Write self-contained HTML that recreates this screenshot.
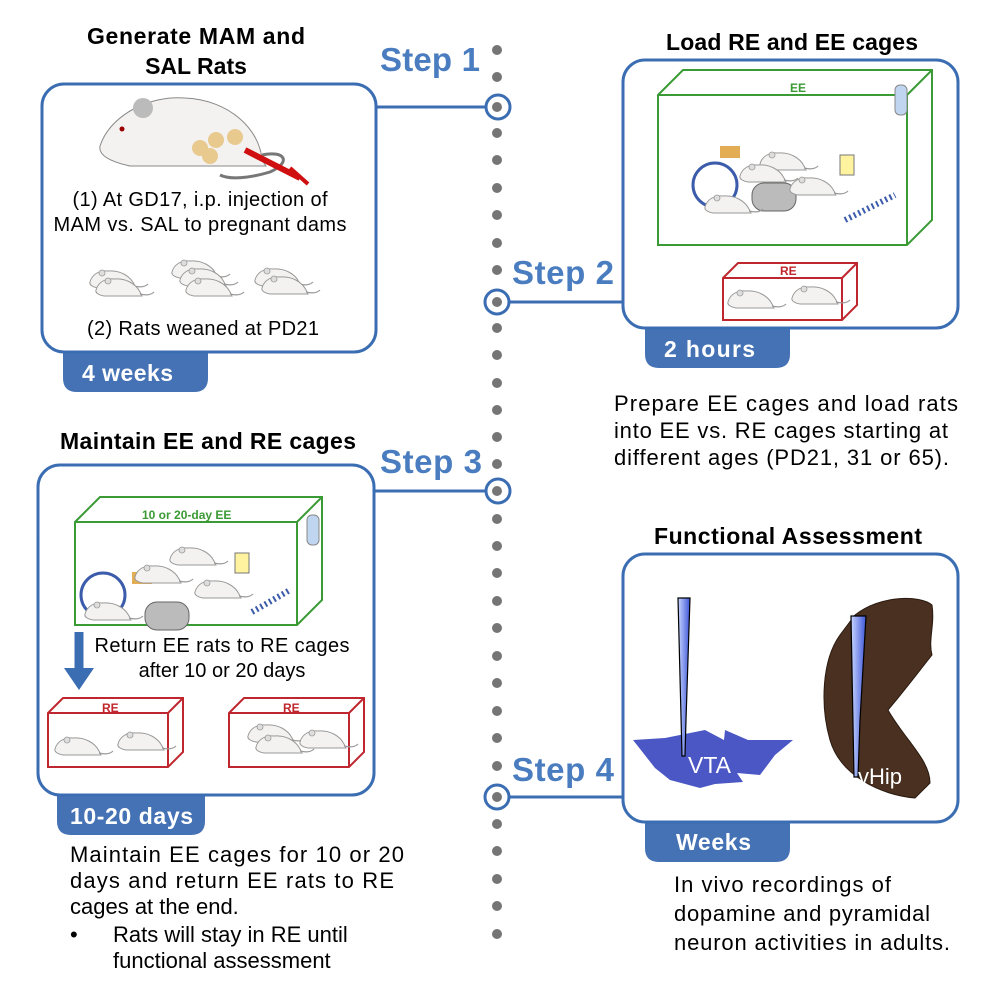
<!DOCTYPE html>
<html><head><meta charset="utf-8"><style>
body{margin:0;background:#fff}
svg text{font-family:"Liberation Sans",Arial,sans-serif}
</style></head><body>
<svg width="996" height="996" viewBox="0 0 996 996" xmlns="http://www.w3.org/2000/svg">
<defs>
<g id="rat">
<path d="M0,14 C2,6 10,2 18,3 C30,2 40,8 44,16 L46,20 L8,20 C3,19 -1,17 0,14Z" fill="#f4f2f0" stroke="#999" stroke-width="1"/>
<circle cx="12" cy="5" r="3" fill="#ddd" stroke="#999" stroke-width=".8"/>
<path d="M44,18 C52,20 56,18 58,16" fill="none" stroke="#999" stroke-width="1.2"/>
</g>
<linearGradient id="pip" x1="0" x2="1"><stop offset="0" stop-color="#c9d6ff"/><stop offset="1" stop-color="#3d56d8"/></linearGradient>
</defs>
<g fill="#757575">
<circle cx="497" cy="50" r="5"/><circle cx="497" cy="77" r="5"/><circle cx="497" cy="133" r="5"/><circle cx="497" cy="160" r="5"/><circle cx="497" cy="188" r="5"/><circle cx="497" cy="215" r="5"/><circle cx="497" cy="243" r="5"/><circle cx="497" cy="270" r="5"/><circle cx="497" cy="328" r="5"/><circle cx="497" cy="355" r="5"/><circle cx="497" cy="383" r="5"/><circle cx="497" cy="410" r="5"/><circle cx="497" cy="437" r="5"/><circle cx="497" cy="464" r="5"/><circle cx="497" cy="519" r="5"/><circle cx="497" cy="546" r="5"/><circle cx="497" cy="573" r="5"/><circle cx="497" cy="601" r="5"/><circle cx="497" cy="628" r="5"/><circle cx="497" cy="656" r="5"/><circle cx="497" cy="683" r="5"/><circle cx="497" cy="711" r="5"/><circle cx="497" cy="738" r="5"/><circle cx="497" cy="766" r="5"/><circle cx="497" cy="824" r="5"/><circle cx="497" cy="851" r="5"/><circle cx="497" cy="879" r="5"/><circle cx="497" cy="906" r="5"/><circle cx="497" cy="934" r="5"/>
<circle cx="497" cy="107" r="5"/><circle cx="497" cy="302" r="5"/><circle cx="497" cy="491" r="5"/><circle cx="497" cy="797" r="5"/>
</g>
<g fill="none" stroke="#3b6db3" stroke-width="3">
<circle cx="498" cy="107" r="12"/><circle cx="497" cy="302" r="12"/><circle cx="498" cy="491" r="12"/><circle cx="497" cy="797" r="12"/>
<line x1="376" y1="107" x2="486" y2="107"/><line x1="509" y1="302" x2="623" y2="302"/>
<line x1="374" y1="491" x2="486" y2="491"/><line x1="509" y1="797" x2="623" y2="797"/>
</g>
<g fill="#4472b4">
<path d="M63,340 H208 V378 Q208,392 194,392 H77 Q63,392 63,378Z"/>
<path d="M645,316 H790 V354 Q790,368 776,368 H659 Q645,368 645,354Z"/>
<path d="M57,783 H205 V821 Q205,835 191,835 H71 Q57,835 57,821Z"/>
<path d="M645,810 H790 V848 Q790,862 776,862 H659 Q645,862 645,848Z"/>
</g>
<g fill="#fff" stroke="#3b6db3" stroke-width="3">
<rect x="42" y="84" width="334" height="268" rx="22"/>
<rect x="623" y="60" width="335" height="268" rx="22"/>
<rect x="38" y="465" width="336" height="330" rx="22"/>
<rect x="623" y="554" width="335" height="268" rx="22"/>
</g>
<g fill="#fff" font-weight="bold" font-size="23">
<text x="82" y="381" textLength="91">4 weeks</text><text x="664" y="357" textLength="91">2 hours</text><text x="70" y="824" textLength="123">10-20 days</text><text x="676" y="850" textLength="75">Weeks</text>
</g>
<g fill="#4a7cc0" font-weight="bold" font-size="33">
<text x="380" y="71" textLength="100">Step 1</text><text x="512" y="284" textLength="102">Step 2</text><text x="380" y="473" textLength="102">Step 3</text><text x="512" y="781" textLength="102">Step 4</text>
</g>
<g fill="#000" font-weight="bold" font-size="23" text-anchor="middle">
<text x="196" y="44" textLength="218">Generate MAM and</text><text x="196" y="74">SAL Rats</text>
<text x="792" y="50" textLength="252">Load RE and EE cages</text>
<text x="208" y="449" textLength="296">Maintain EE and RE cages</text>
<text x="788" y="544" textLength="268">Functional Assessment</text>
</g>
<path d="M100,146 C110,115 150,95 185,98 C230,100 260,130 262,160 L266,166 L130,166 C112,162 98,156 100,146Z" fill="#f4f2f0" stroke="#888"/>
<circle cx="143" cy="108" r="10" fill="#bbb"/><circle cx="122" cy="129" r="2.5" fill="#900"/>
<path d="M262,155 C285,150 292,162 270,172 C250,178 230,180 220,175" fill="none" stroke="#777" stroke-width="3"/>
<g fill="#e8c98e"><circle cx="200" cy="148" r="8"/><circle cx="216" cy="140" r="8"/><circle cx="235" cy="137" r="8"/><circle cx="210" cy="156" r="8"/></g>
<path d="M245,150 L300,178" stroke="#d01010" stroke-width="6"/><path d="M290,168 L308,184" stroke="#d01010" stroke-width="4"/>
<g fill="#000" font-size="20" text-anchor="middle">
<text x="200" y="206" textLength="255">(1) At GD17, i.p. injection of</text><text x="200" y="231" textLength="293">MAM vs. SAL to pregnant dams</text>
<text x="203" y="335" textLength="232">(2) Rats weaned at PD21</text>
</g>
<use href="#rat" x="90" y="268"/><use href="#rat" x="96" y="276"/>
<use href="#rat" x="172" y="258"/><use href="#rat" x="180" y="266"/><use href="#rat" x="186" y="276"/>
<use href="#rat" x="255" y="266"/><use href="#rat" x="262" y="274"/>
<g fill="none" stroke="#3a9a35" stroke-width="2"><path d="M658,95 L683,70 H932 V220 L907,245 H658Z M658,95 H907 V245 M907,95 L932,70"/></g>
<text x="790" y="92" fill="#3a9a35" font-size="12" font-weight="bold">EE</text>
<rect x="895" y="85" width="12" height="30" rx="5" fill="#c0d6f0" stroke="#888"/>
<circle cx="715" cy="185" r="22" fill="none" stroke="#3b5bab" stroke-width="3"/>
<rect x="720" y="146" width="20" height="12" fill="#e3ad55"/>
<rect x="840" y="155" width="14" height="20" fill="#fff3a0" stroke="#777"/>
<rect x="752" y="183" width="44" height="28" rx="12" fill="#bbb" stroke="#666"/>
<path d="M845,220 L895,195" stroke="#3b5bab" stroke-width="6" stroke-dasharray="2 3"/>
<use href="#rat" x="760" y="150"/><use href="#rat" x="740" y="162"/><use href="#rat" x="790" y="175"/><use href="#rat" x="705" y="193"/>
<g fill="none" stroke="#c0262e" stroke-width="2"><path d="M723,278 L738,263 H857 V305 L842,320 H723Z M723,278 H842 V320 M842,278 L857,263"/></g>
<text x="780" y="275" fill="#c0262e" font-size="12" font-weight="bold">RE</text>
<use href="#rat" x="728" y="288"/><use href="#rat" x="792" y="284"/>
<g fill="#000" font-size="22"><text x="614" y="411" textLength="344">Prepare EE cages and load rats</text><text x="614" y="438" textLength="334">into EE vs. RE cages starting at</text><text x="614" y="465" textLength="335">different ages (PD21, 31 or 65).</text></g>
<g fill="none" stroke="#3a9a35" stroke-width="2"><path d="M75,522 L100,497 H322 V600 L297,625 H75Z M75,522 H297 V625 M297,522 L322,497"/></g>
<text x="142" y="519" fill="#3a9a35" font-size="12" font-weight="bold">10 or 20-day EE</text>
<rect x="307" y="515" width="12" height="30" rx="5" fill="#c0d6f0" stroke="#888"/>
<circle cx="103" cy="595" r="22" fill="none" stroke="#3b5bab" stroke-width="3"/>
<rect x="132" y="572" width="20" height="12" fill="#e3ad55"/>
<rect x="235" y="553" width="14" height="20" fill="#fff3a0" stroke="#777"/>
<rect x="145" y="602" width="44" height="28" rx="12" fill="#bbb" stroke="#666"/>
<path d="M252,612 L290,590" stroke="#3b5bab" stroke-width="6" stroke-dasharray="2 3"/>
<use href="#rat" x="170" y="545"/><use href="#rat" x="135" y="563"/><use href="#rat" x="195" y="578"/><use href="#rat" x="85" y="600"/>
<path d="M79,632 V672" stroke="#3b6db3" stroke-width="9"/><path d="M64,668 L79,690 L94,668Z" fill="#3b6db3"/>
<g fill="#000" font-size="20" text-anchor="middle"><text x="222" y="652" textLength="255">Return EE rats to RE cages</text><text x="222" y="677">after 10 or 20 days</text></g>
<g fill="none" stroke="#c0262e" stroke-width="2">
<path d="M48,713 L63,698 H183 V752 L168,767 H48Z M48,713 H168 V767 M168,713 L183,698"/>
<path d="M229,713 L244,698 H364 V752 L349,767 H229Z M229,713 H349 V767 M349,713 L364,698"/></g>
<text x="102" y="712" fill="#c0262e" font-size="12" font-weight="bold">RE</text><text x="283" y="712" fill="#c0262e" font-size="12" font-weight="bold">RE</text>
<use href="#rat" x="55" y="735"/><use href="#rat" x="118" y="730"/>
<use href="#rat" x="248" y="722"/><use href="#rat" x="256" y="733"/><use href="#rat" x="300" y="728"/>
<g fill="#000" font-size="22"><text x="70" y="862" textLength="334">Maintain EE cages for 10 or 20</text><text x="70" y="888" textLength="324">days and return EE rats to RE</text><text x="70" y="914">cages at the end.</text>
<text x="70" y="942">•</text><text x="113" y="942">Rats will stay in RE until</text><text x="113" y="968">functional assessment</text></g>
<path d="M633,740 L665,738 L705,730 L724,740 L725,730 L748,740 L793,740 L775,755 L760,775 L737,773 L743,782 L715,784 L700,788 L670,780 L655,768 Z" fill="#4b57c4"/>
<path d="M678,598 H690 L686,720 L685,756 L682,756 Z" fill="url(#pip)" stroke="#000" stroke-width="1.2"/>
<text x="688" y="773" fill="#fff" font-size="23">VTA</text>
<path d="M855,615 C880,595 920,595 932,605 C935,625 928,640 932,655 C920,670 905,690 888,710 C905,740 930,760 930,783 L915,798 C880,795 840,775 830,740 C820,705 822,660 840,635Z" fill="#4a3020" stroke="#2a1a10"/>
<path d="M851,616 H866 L860,720 L858,777 L854,777 Z" fill="url(#pip)" stroke="#000" stroke-width="1.2"/>
<text x="858" y="784" fill="#fff" font-size="22">vHip</text>
<g fill="#000" font-size="22"><text x="674" y="892" textLength="217">In vivo recordings of</text><text x="674" y="921" textLength="256">dopamine and pyramidal</text><text x="674" y="950" textLength="276">neuron activities in adults.</text></g>
</svg>
</body></html>
